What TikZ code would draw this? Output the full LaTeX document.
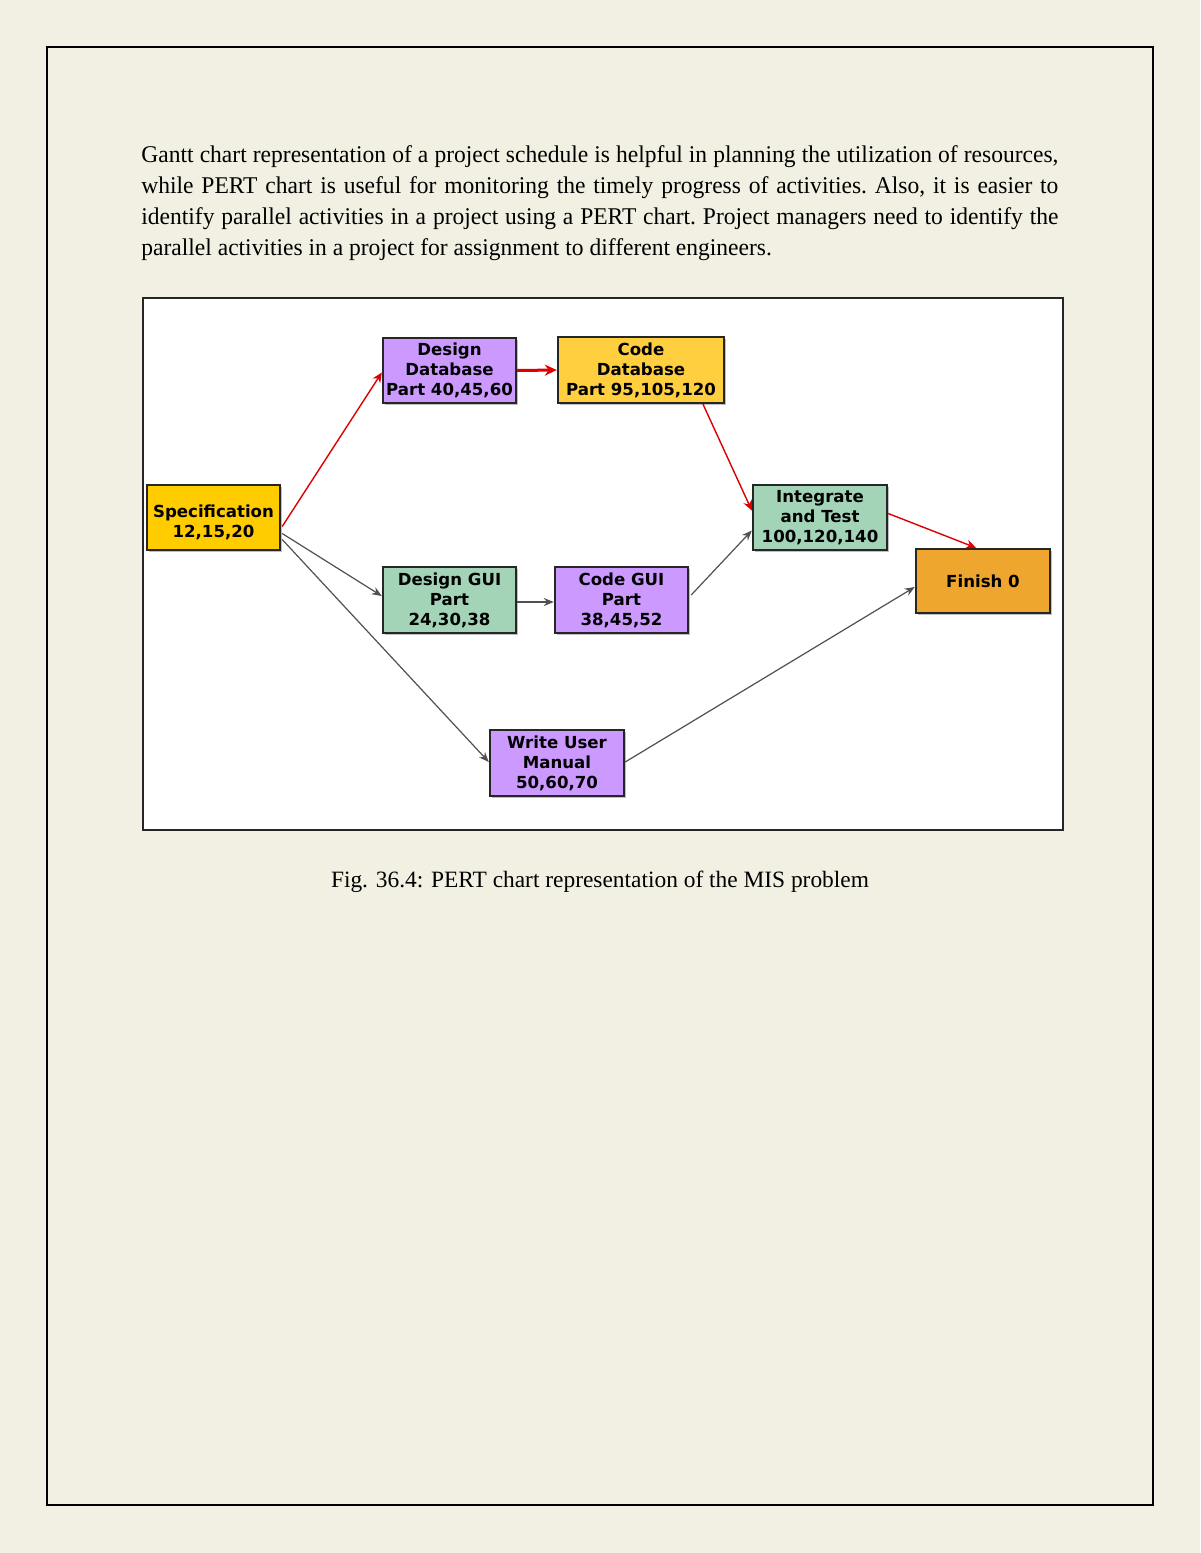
\documentclass[tikz,border=0pt]{standalone}
\usepackage{fontspec}
\setmainfont{Liberation Serif}
\newfontfamily\parafont[FakeStretch=0.98]{Liberation Serif}
\newfontfamily\boxfont{DejaVu Sans Bold}
\usetikzlibrary{arrows.meta,calc,shadows}
\definecolor{pagebg}{HTML}{F2F0E2}
\definecolor{specgold}{HTML}{FFCC00}
\definecolor{lav}{HTML}{CC99FF}
\definecolor{codegold}{HTML}{FFCF40}
\definecolor{mint}{HTML}{A3D4B8}
\definecolor{finor}{HTML}{EEA62E}
\definecolor{critred}{HTML}{DD0000}
\definecolor{normgray}{HTML}{505050}
\tikzset{
  taskbox/.style={draw=black!85, line width=1.2pt, inner sep=0pt, align=center,
    font=\boxfont\fontsize{8.3}{10}\selectfont,
    drop shadow={shadow xshift=1pt, shadow yshift=-1pt, fill=black, opacity=0.25}},
  critarrow/.style={draw=critred, line width=0.7pt, -{Stealth[length=5pt,width=4.5pt]}},
  critthick/.style={draw=critred, line width=1.5pt, -{Stealth[length=6pt,width=5.5pt]}},
  normarrow/.style={draw=normgray, line width=0.6pt, -{Stealth[length=5pt,width=4pt]}},
  paraline/.style={anchor=base west, inner sep=0pt, font=\parafont\fontsize{12}{15}\selectfont\frenchspacing}
}
\begin{document}
\begin{tikzpicture}[x=0.5pt,y=-0.5pt]
\useasboundingbox (0,0) rectangle (1200,1553);
\fill[pagebg] (0,0) rectangle (1200,1553);
\draw[black, line width=0.8pt] (47,47) rectangle (1153,1505);

% paragraph
\node[paraline] (p1) at (141,162) {\makebox[458.5pt][s]{Gantt chart representation of a project schedule is helpful in planning the utilization of resources,}};
\node[paraline] (p2) at (141,193) {\makebox[458.5pt][s]{while PERT chart is useful for monitoring the timely progress of activities. Also, it is easier to}};
\node[paraline] (p3) at (141,224) {\makebox[458.5pt][s]{identify parallel activities in a project using a PERT chart. Project managers need to identify the}};
\node[paraline] (p4) at (141,255) {parallel activities in a project for assignment to different engineers.};

% diagram frame
\draw[fill=white, draw=black!85, line width=1.2pt] (143,298) rectangle (1063,830);

% nodes
\node[taskbox, fill=specgold, minimum width=66.5pt, minimum height=32.5pt] (spec) at (213.5,517.5) {\rule{0pt}{11pt}Specification\\12,15,20};
\node[taskbox, fill=lav, minimum width=66.5pt, minimum height=32.5pt] (ddb) at (449.5,370.5) {Design\\Database\\Part 40,45,60};
\node[taskbox, fill=codegold, minimum width=83pt, minimum height=33pt] (cdb) at (641,370) {Code\\Database\\Part 95,105,120};
\node[taskbox, fill=mint, minimum width=67pt, minimum height=32.5pt] (int) at (820,517.5) {Integrate\\and Test\\100,120,140};
\node[taskbox, fill=finor, minimum width=67pt, minimum height=32pt] (fin) at (983,581) {Finish 0};
\node[taskbox, fill=mint, minimum width=66.5pt, minimum height=33pt] (dgui) at (449.5,600) {Design GUI\\Part\\24,30,38};
\node[taskbox, fill=lav, minimum width=66.5pt, minimum height=33pt] (cgui) at (621.5,600) {Code GUI\\Part\\38,45,52};
\node[taskbox, fill=lav, minimum width=67pt, minimum height=33pt] (wum) at (557,763) {Write User\\Manual\\50,60,70};

% connectors
\draw[critarrow] ($(spec.east)+(1,9)$) -- ($(ddb.west)+(0,2)$);
\draw[critthick] (ddb.east) -- (cdb.west);
\draw[critarrow] ($(cdb.south)+(62,0)$) -- ($(int.west)+(0,-7)$);
\draw[critarrow] ($(int.east)+(0,-4)$) -- ($(fin.north)+(-7,0)$);
\draw[normarrow] ($(spec.east)+(1,16)$) -- ($(dgui.west)+(0,-4)$);
\draw[normarrow] ($(spec.east)+(1,22)$) -- ($(wum.west)+(0,-1)$);
\draw[normarrow, line width=0.9pt] ($(dgui.east)+(0,2)$) -- ($(cgui.west)+(0,2)$);
\draw[normarrow] ($(cgui.east)+(2,-5)$) -- ($(int.west)+(0,13)$);
\draw[normarrow] ($(wum.east)+(0,-1)$) -- ($(fin.west)+(0,6)$);

% caption
\node[font=\fontsize{11.7}{15}\selectfont, inner sep=0pt] (cap) at (600,882) {Fig. 36.4: PERT chart representation of the MIS problem};
\end{tikzpicture}
\end{document}
